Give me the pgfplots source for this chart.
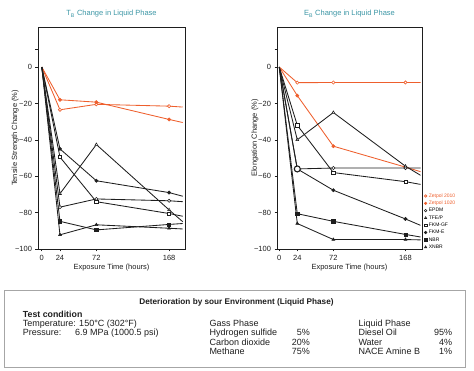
\documentclass[border=0pt]{standalone}
\usepackage{pgfplots}
\pgfplotsset{compat=1.18}
\usepackage{fontspec}
\setmainfont{Liberation Sans}
\definecolor{zor}{RGB}{238,95,45}
\definecolor{ttl}{RGB}{60,150,165}
\definecolor{ink}{RGB}{30,30,30}
\pgfplotsset{
  chart/.style={
    scale only axis, height=222pt, ymin=-100, ymax=22,
    xtick={0,24,72,168}, xticklabels={0,24,72,168},
    ytick={-100,-80,-60,-40,-20,0,10},
    yticklabels={−100,−80,−60,−40,−20,0,{}},
    tick align=outside, xtick pos=bottom, ytick pos=left,
    major tick length=2.5pt,
    tick style={ink, line width=0.6pt},
    axis line style={ink, line width=0.7pt},
    ticklabel style={font=\fontsize{7.5}{8}\selectfont, text=ink},
    label style={font=\fontsize{7.5}{8}\selectfont, text=ink},
    xlabel={Exposure Time (hours)},
    xlabel style={at={(axis description cs:0.5,-0.082)}, anchor=center},
  },
  ln/.style={ink, line width=0.85pt, no markers, forget plot},
  zln/.style={zor, line width=0.85pt, no markers, forget plot},
  mk/.style={only marks, ink, mark size=1.6pt, line width=0.6pt},
  zmk/.style={only marks, zor, mark size=1.6pt, line width=0.6pt},
}
\begin{document}
\begin{tikzpicture}
\useasboundingbox (0pt,0pt) rectangle (474pt,-371pt);
% ---------------- left chart ----------------
\node[font=\fontsize{7.5}{8}\selectfont, text=ttl] at (111.5pt,-14pt) {T\textsubscript{B} Change in Liquid Phase};
\begin{axis}[chart, at={(38pt,-249pt)}, anchor=south west, width=147pt,
  xmin=-5, xmax=189,
  ylabel={Tensile Strength Change (\%)},
  ylabel style={at={(axis description cs:-0.156,0.5)}, anchor=center}]
% lines
\addplot[zln] coordinates {(0,0) (24,-23.5) (72,-20.5) (168,-21.5) (186,-22)};
\addplot[zln] coordinates {(0,0) (24,-18) (72,-19.3) (168,-28.8) (186,-30.5)};
\addplot[ln] coordinates {(0,0) (24,-77) (72,-72.5) (168,-73.5) (186,-74)};
\addplot[ln] coordinates {(0,0) (24,-69.6) (72,-42.6) (168,-78.5) (186,-85)};
\addplot[ln] coordinates {(0,0) (24,-49.5) (72,-74) (168,-80.5) (186,-82)};
\addplot[ln] coordinates {(0,0) (24,-45) (72,-62.5) (168,-69) (186,-71)};
\addplot[ln] coordinates {(0,0) (24,-84.8) (72,-89.5) (168,-86.5) (186,-86)};
\addplot[ln] coordinates {(0,0) (24,-92.2) (72,-86.7) (168,-88.6) (186,-89)};
% marks
\addplot[zmk, mark=*, mark options={fill=white}] coordinates {(24,-23.5) (72,-20.5) (168,-21.5)};
\addplot[zmk, mark=*, mark options={fill=zor}] coordinates {(24,-18) (72,-19.3) (168,-28.8)};
\addplot[mk, mark=*, mark options={fill=white}] coordinates {(24,-77) (72,-72.5) (168,-73.5)};
\addplot[mk, mark=triangle*, mark options={fill=white}] coordinates {(24,-69.6) (72,-42.6) (168,-78.5)};
\addplot[mk, mark=square*, mark options={fill=white}] coordinates {(24,-49.5) (72,-74) (168,-80.5)};
\addplot[mk, mark=*, mark options={fill=ink}] coordinates {(24,-45) (72,-62.5) (168,-69)};
\addplot[mk, mark=square*, mark options={fill=ink}] coordinates {(24,-84.8) (72,-89.5) (168,-86.5)};
\addplot[mk, mark=triangle*, mark options={fill=ink}] coordinates {(24,-92.2) (72,-86.7) (168,-88.6)};
\end{axis}
% ---------------- right chart ----------------
\node[font=\fontsize{7.5}{8}\selectfont, text=ttl] at (349.5pt,-14pt) {E\textsubscript{B} Change in Liquid Phase};
\begin{axis}[chart, at={(277pt,-249pt)}, anchor=south west, width=145pt,
  xmin=-3, xmax=190,
  ylabel={Elongation Change (\%)},
  ylabel style={at={(axis description cs:-0.152,0.5)}, anchor=center},
  legend style={at={(1.015,0.252)}, anchor=north west, draw=none, fill=none,
    font=\fontsize{5}{5.5}\selectfont, row sep=1.8pt, column sep=1.5pt, inner sep=0pt,
    nodes={inner sep=0.5pt, text height=3.5pt, text depth=1pt},
    cells={anchor=west}},
  legend image code/.code={\draw[#1, mark size=1.25pt] plot coordinates {(0pt,0pt)};}]
% lines
\addplot[zln] coordinates {(0,0) (24,-8.6) (72,-8.5) (168,-8.5) (188,-8.5)};
\addplot[zln] coordinates {(0,0) (24,-15.7) (72,-43.5) (168,-55) (188,-57.5)};
\addplot[ln] coordinates {(0,0) (24,-56) (72,-55.5) (168,-55.5) (188,-55.5)};
\addplot[ln] coordinates {(0,0) (24,-40) (72,-25) (168,-54.5) (188,-59.5)};
\addplot[ln] coordinates {(0,0) (24,-32) (72,-58) (168,-63) (188,-64.5)};
\addplot[ln] coordinates {(0,0) (24,-56) (72,-67.7) (168,-83.5) (188,-87)};
\addplot[ln] coordinates {(0,0) (24,-80.6) (72,-84.8) (168,-92) (188,-93.4)};
\addplot[ln] coordinates {(0,0) (24,-86) (72,-94.8) (168,-94.8) (188,-95)};
% marks
\addplot[zmk, mark=*, mark options={fill=white}] coordinates {(24,-8.6) (72,-8.5) (168,-8.5)};
\addlegendentry{\textcolor{zor}{Zetpol 2010}}
\addplot[zmk, mark=*, mark options={fill=zor}] coordinates {(24,-15.7) (72,-43.5) (168,-55)};
\addlegendentry{\textcolor{zor}{Zetpol 1020}}
\addplot[mk, mark=*, mark options={fill=white}] coordinates {(72,-55.5) (168,-55.5)};
\addlegendentry{EPDM}
\addplot[mk, mark=triangle*, mark options={fill=white}] coordinates {(24,-40) (72,-25) (168,-54.5)};
\addlegendentry{TFE/P}
\addplot[mk, mark=square*, mark options={fill=white}] coordinates {(24,-32) (72,-58) (168,-63)};
\addlegendentry{FKM-GF}
\addplot[mk, mark=*, mark options={fill=ink}] coordinates {(24,-56) (72,-67.7) (168,-83.5)};
\addlegendentry{FKM-E}
\addplot[mk, mark=square*, mark options={fill=ink}] coordinates {(24,-80.6) (72,-84.8) (168,-92)};
\addlegendentry{NBR}
\addplot[mk, mark=triangle*, mark options={fill=ink}] coordinates {(24,-86) (72,-94.8) (168,-94.8)};
\addlegendentry{XNBR}
\addplot[only marks, ink, mark=*, mark size=3pt, line width=1.1pt, mark options={fill=white}, forget plot] coordinates {(24,-56)};
\end{axis}
% ---------------- condition box ----------------
\draw[gray!70, line width=0.6pt] (4pt,-290pt) rectangle (465pt,-367pt);
\begin{scope}[every node/.style={inner sep=0pt, text=ink, font=\fontsize{9}{10}\selectfont}]
\node[anchor=base, font=\fontsize{8.2}{10}\selectfont\bfseries] at (236.5pt,-304.6pt) {Deterioration by sour Environment (Liquid Phase)};
\node[anchor=base west, font=\fontsize{8.8}{10}\selectfont\bfseries] at (22.7pt,-317.3pt) {Test condition};
\node[anchor=base west] at (22.7pt,-326.7pt) {Temperature: 150°C (302°F)};
\node[anchor=base west] at (22.7pt,-335.7pt) {Pressure:};
\node[anchor=base west] at (75pt,-335.7pt) {6.9 MPa (1000.5 psi)};
\node[anchor=base west] at (209.3pt,-326.7pt) {Gass Phase};
\node[anchor=base west] at (209.3pt,-335.7pt) {Hydrogen sulfide};
\node[anchor=base east] at (310pt,-335.7pt) {5\%};
\node[anchor=base west] at (209.3pt,-345.7pt) {Carbon dioxide};
\node[anchor=base east] at (310pt,-345.7pt) {20\%};
\node[anchor=base west] at (209.3pt,-354.7pt) {Methane};
\node[anchor=base east] at (310pt,-354.7pt) {75\%};
\node[anchor=base west] at (358.3pt,-326.7pt) {Liquid Phase};
\node[anchor=base west] at (358.3pt,-335.7pt) {Diesel Oil};
\node[anchor=base east] at (452.3pt,-335.7pt) {95\%};
\node[anchor=base west] at (358.3pt,-345.7pt) {Water};
\node[anchor=base east] at (452.3pt,-345.7pt) {4\%};
\node[anchor=base west] at (358.3pt,-354.7pt) {NACE Amine B};
\node[anchor=base east] at (452.3pt,-354.7pt) {1\%};
\end{scope}
\end{tikzpicture}
\end{document}
